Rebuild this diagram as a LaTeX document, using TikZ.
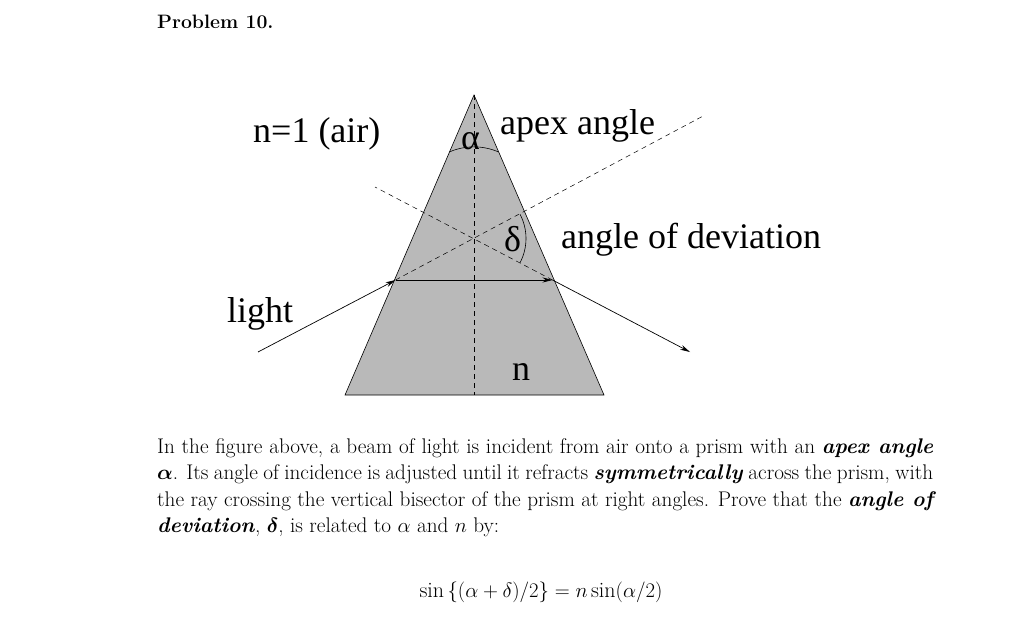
\documentclass[tikz,border=0pt]{standalone}
\usepackage{fontspec}
\usepackage{amsmath}
\newfontfamily\figfont{Liberation Serif}
\usetikzlibrary{arrows.meta,calc}
\begin{document}
\begin{tikzpicture}[x=1pt,y=-1pt,
 ray/.style={line width=0.7pt,-{Stealth[length=10pt,width=5pt]}},
 dsh/.style={dashed,line width=0.5pt,dash pattern=on 5pt off 4pt},
 lab/.style={font=\figfont\fontsize{36}{38}\selectfont,inner sep=0pt,anchor=base west}]
\useasboundingbox (0,0) rectangle (1024,643);
\coordinate (A) at (474,95);
\coordinate (BL) at (345,395);
\coordinate (BR) at (604,395);
\coordinate (P1) at (395.5,280);
\coordinate (P2) at (552.5,280);
\coordinate (S) at (258,352);
\coordinate (E) at (690,352);
\coordinate (X1) at (705,115);
\coordinate (X2) at (375,187);
\coordinate (C) at (474,238.5);
\fill[gray!55,draw=black,line width=0.6pt] (A) -- (BL) -- (BR) -- cycle;
\draw[dsh] (A) -- (474,395);
\draw[dsh] (P1) -- (X1);
\draw[dsh] (P2) -- (X2);
\draw[ray] (S) -- (P1);
\draw[ray] (P1) -- (P2);
\draw[ray] (P2) -- (E);
\draw[line width=0.6pt] ($(A)+(-0.397*62,0.918*62)$) arc[start angle=246.7,end angle=293.3,radius=62];
\draw[line width=0.6pt] (C) ++(27.7:52) arc[start angle=27.7,end angle=-27.7,radius=52];
\node[lab] (al) at (461,149) {α};
\node[lab] (apex) at (500,134) {apex angle};
\node[lab] (n1) at (253,142) {n=1 (air)};
\node[lab] (de) at (504,251) {δ};
\node[lab] (dev) at (561,248) {angle of deviation};
\node[lab] (li) at (227,322) {light};
\node[lab] (nn) at (512,380) {n};
\node[anchor=base west,inner sep=0pt,font=\bfseries\fontsize{19.4}{22}\selectfont] (prob) at (157,28) {Problem 10.};
\node[anchor=north west,inner sep=0pt,text width=776pt,align=justify,font=\fontsize{21.2}{26.5}\selectfont] (txt) at (157,438)
{In the figure above, a beam of light is incident from air onto a prism with an \textbf{\textit{apex angle}} $\boldsymbol{\alpha}$. Its angle of incidence is adjusted until it refracts \textbf{\textit{symmetrically}} across the prism, with the ray crossing the vertical bisector of the prism at right angles. Prove that the \textbf{\textit{angle of deviation}}, $\boldsymbol{\delta}$, is related to $\alpha$ and $n$ by:};
\node[inner sep=0pt,font=\fontsize{22}{24}\selectfont] (eq) at (541,592) {$\sin\left\{(\alpha+\delta)/2\right\} = n\sin(\alpha/2)$};
\end{tikzpicture}
\end{document}
